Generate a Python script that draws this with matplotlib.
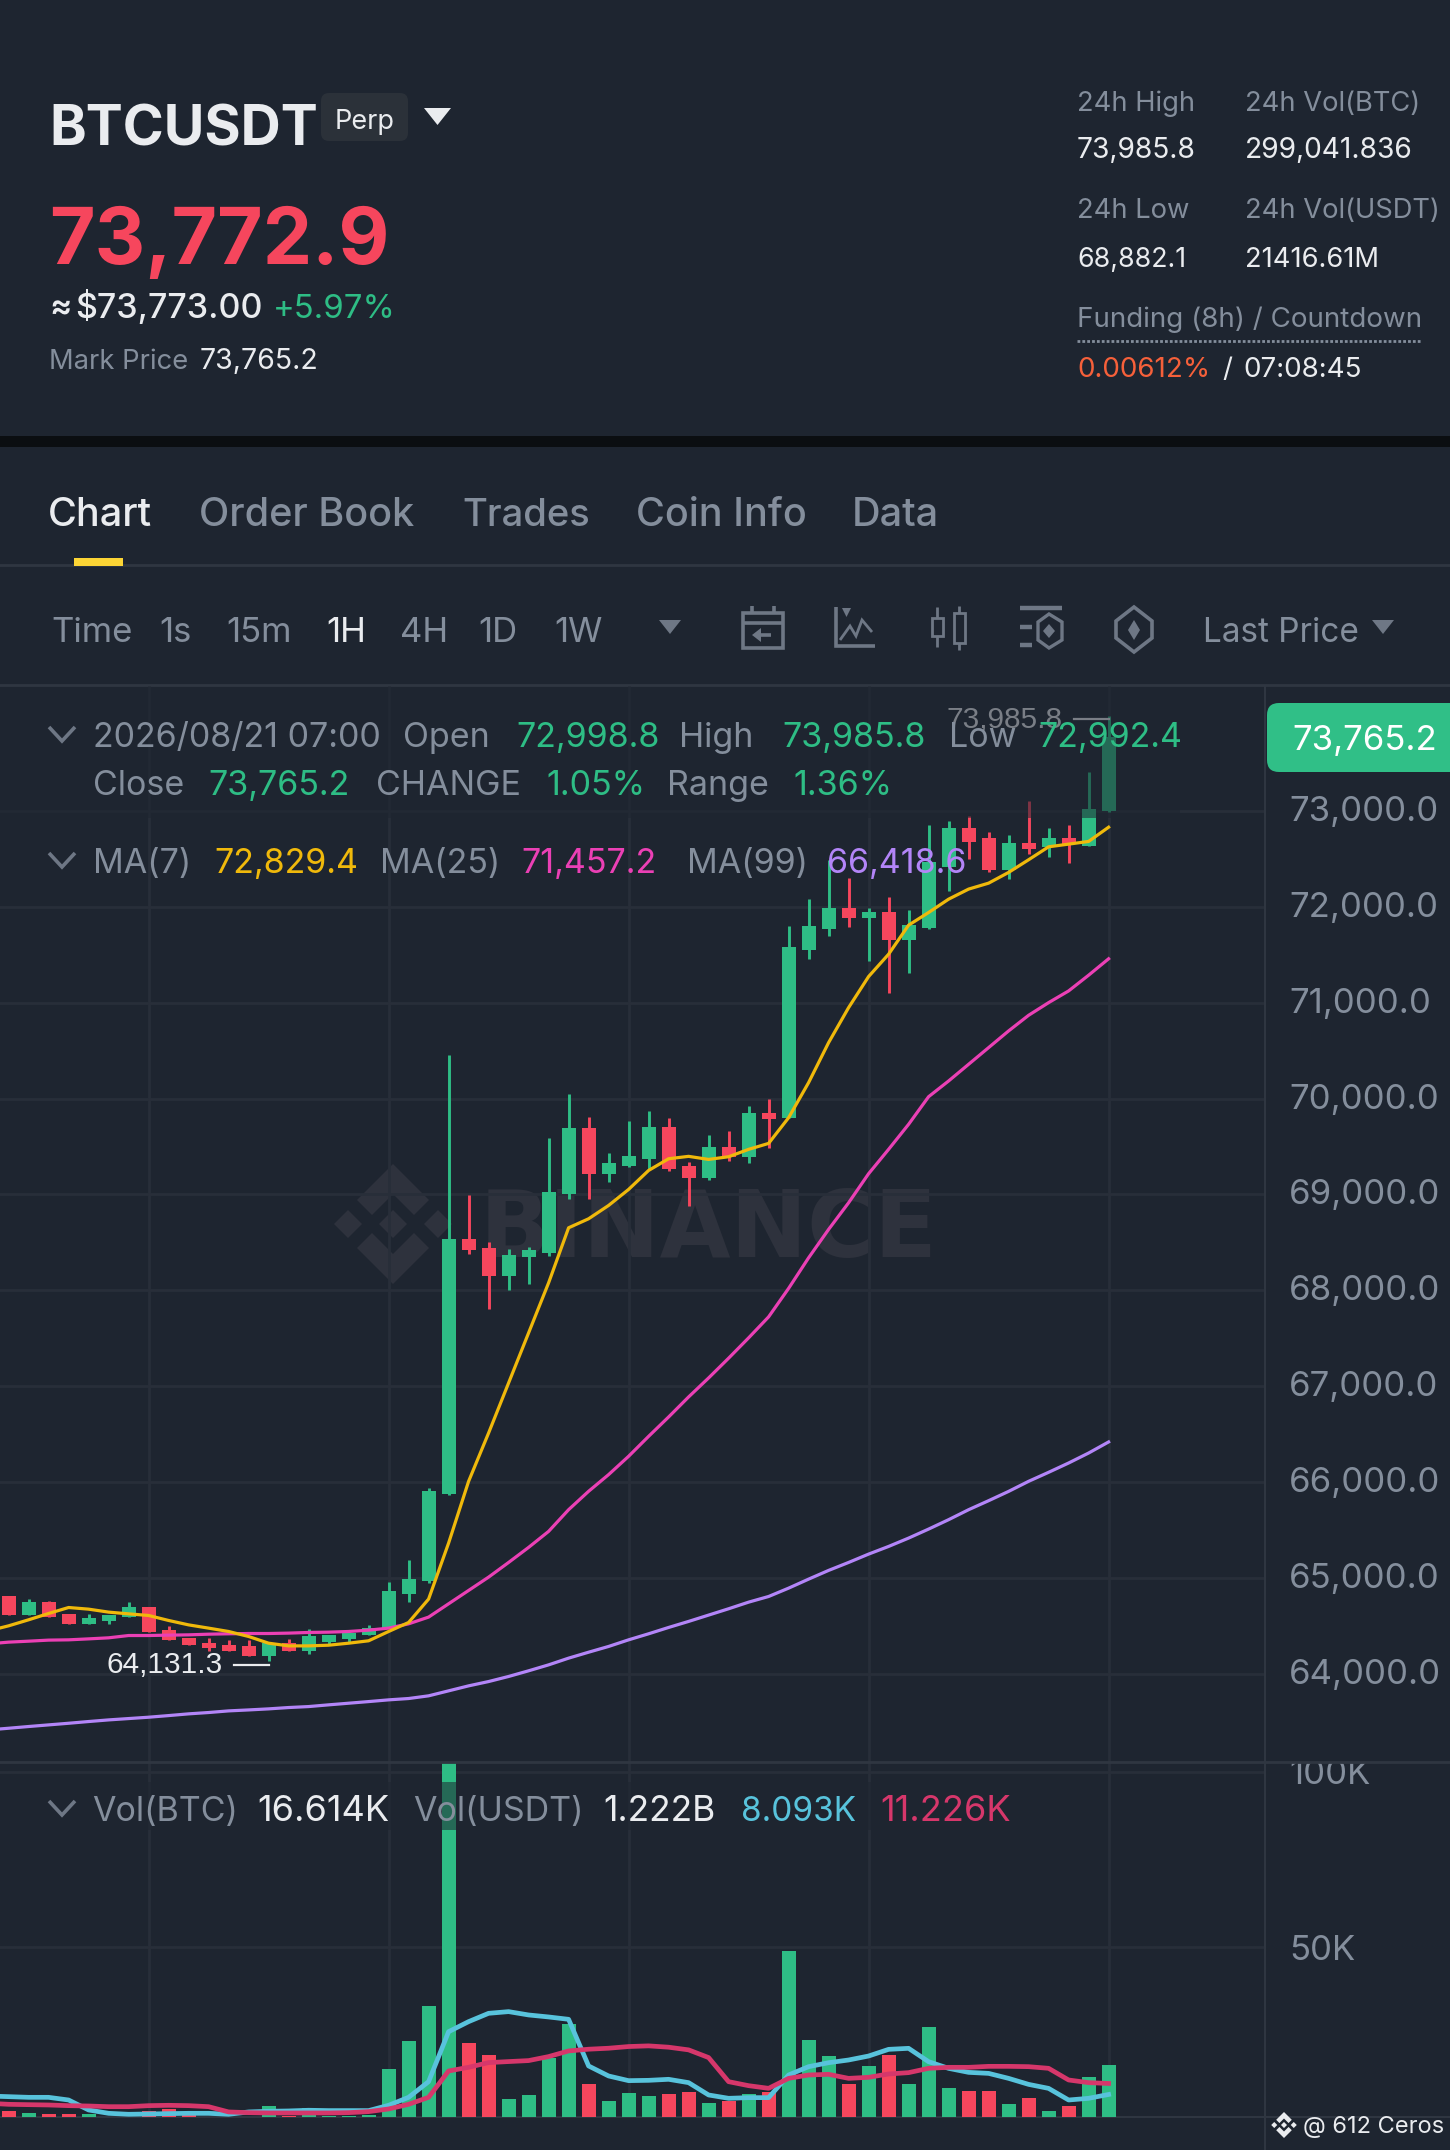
import numpy as np
import matplotlib
matplotlib.use('Agg')
import matplotlib.pyplot as plt
from matplotlib.patches import Rectangle, Polygon, FancyBboxPatch
from matplotlib.transforms import ScaledTranslation

plt.rcParams['font.family'] = ['Inter', 'DejaVu Sans']

# candles
opens = [64811, 64613, 64751, 64626, 64525, 64550, 64588, 64700, 64459, 64376,
         64327, 64300, 64292, 64188, 64320, 64243, 64337, 64368, 64404, 64477,
         64832, 64964, 65876, 68537, 68443, 68154, 68345, 68387, 69000, 69696,
         69212, 69295, 69372, 69706, 69295, 69167, 69494, 69393, 69852, 69800,
         71550, 71768, 71992, 71884, 71947, 71651, 71780, 72417, 72820, 72712,
         72385, 72667, 72625, 72722, 72635, 72998.8]
closes = [64613, 64751, 64598, 64525, 64581, 64613, 64700, 64438, 64352, 64300,
          64268, 64243, 64188, 64320, 64243, 64390, 64404, 64425, 64477, 64866,
          64992, 65903, 68537, 68418, 68154, 68373, 68418, 69028, 69696, 69212,
          69323, 69400, 69702, 69268, 69167, 69494, 69393, 69852, 69790, 71575,
          71794, 71992, 71884, 71947, 71651, 71808, 72462, 72820, 72677, 72385,
          72663, 72605, 72722, 72650, 73018, 73765.2]
highs = [64811, 64786, 64765, 64626, 64623, 64613, 64748, 64700, 64504, 64376,
         64376, 64355, 64355, 64320, 64368, 64473, 64410, 64440, 64510, 64957,
         65183, 65938, 70451, 68997, 68505, 68426, 68454, 69592, 70043, 69811,
         69435, 69762, 69866, 69800, 69341, 69622, 69657, 69921, 69998, 71800,
         72079, 72487, 72298, 71992, 72098, 71967, 72851, 72890, 72942, 72781,
         72750, 73105, 72820, 72855, 73401, 73985.8]
lows = [64613, 64613, 64598, 64525, 64525, 64520, 64588, 64438, 64352, 64300,
        64243, 64243, 64188, 64131.3, 64235, 64212, 64316, 64330, 64404, 64477,
        64751, 64950, 65862, 68374, 67800, 68008, 68068, 68356, 68948, 68948,
        69128, 69290, 69261, 69247, 68878, 69153, 69348, 69326, 69487, 69800,
        71453, 71696, 71787, 71435, 71105, 71313, 71764, 72163, 72497, 72358,
        72285, 72555, 72521, 72460, 72630, 72992.4]
volumes = [3388, 2733, 2620, 2620, 2534, 1500, 1500, 3388, 3957, 2500,
           1800, 1500, 1800, 4897, 2000, 4327, 2000, 2100, 2300, 15345,
           23317, 33281, 102460, 22833, 19245, 6804, 7943, 18392, 28157, 10989,
           6320, 8427, 7658, 8142, 8883, 5665, 6320, 8142, 8883, 49026,
           23687, 19047, 10989, 16114, 19417, 11075, 27217, 9936, 9082, 9082,
           5295, 7089, 3473, 4897, 12982, 16614]

# moving averages start one candle left of the picture
ma7 = [64449, 64501, 64564, 64630, 64692, 64675, 64644, 64626, 64609, 64557, 64511,
       64477, 64442, 64390, 64320, 64292, 64292, 64299, 64320, 64345, 64442, 64536,
       64780, 65364, 66008, 66512, 67034, 67556, 68078, 68652, 68746, 68885, 69052,
       69250, 69372, 69397, 69365, 69393, 69470, 69532, 69800, 70166, 70583, 70948,
       71272, 71505, 71808, 71940, 72079, 72184, 72246, 72358, 72490, 72625, 72653,
       72681, 72829.4]
ma25 = [64313, 64331, 64341, 64352, 64355, 64365, 64376, 64400, 64400, 64404, 64407,
        64414, 64418, 64421, 64421, 64425, 64432, 64435, 64442, 64456, 64477, 64522,
        64592, 64731, 64870, 65009, 65162, 65319, 65486, 65712, 65904, 66078, 66269,
        66477, 66679, 66888, 67086, 67292, 67504, 67723, 68020, 68339, 68635, 68913,
        69216, 69470, 69731, 70019, 70183, 70357, 70531, 70705, 70868, 71000, 71122,
        71286, 71457.2]
ma99 = [63416, 63433, 63451, 63468, 63485, 63503, 63520, 63534, 63548, 63565, 63583,
        63597, 63614, 63624, 63635, 63649, 63659, 63677, 63694, 63711, 63729, 63743,
        63771, 63823, 63875, 63920, 63973, 64032, 64094, 64164, 64226, 64286, 64355,
        64418, 64484, 64547, 64613, 64679, 64748, 64807, 64894, 64988, 65079, 65162,
        65249, 65329, 65416, 65510, 65608, 65712, 65806, 65903, 66008, 66102, 66199,
        66303, 66418.6]
vol_ma5 = [7660, 7470, 7280, 7280, 6520, 3680, 2730, 2450, 2540, 2640, 2730,
           2730, 2450, 3120, 3310, 3400, 3600, 3500, 3500, 3500, 5010, 7280,
           11740, 25970, 28830, 31200, 31680, 30730, 30160, 29490, 16210, 13360, 12030,
           12120, 12410, 11460, 7950, 7000, 7190, 7190, 13640, 16010, 17140, 17910,
           19040, 20940, 21230, 17430, 15530, 14390, 14100, 12680, 10970, 9830, 6520,
           7000, 8093]
vol_ma10 = [5590, 5290, 5190, 5100, 4910, 4810, 4620, 4620, 4910, 5010, 4910,
            4620, 3120, 2920, 2830, 2830, 2830, 2830, 2920, 3210, 3970, 5290,
            7280, 14780, 15830, 17170, 17460, 17740, 18880, 20490, 20980, 21260, 21740,
            21930, 21550, 20790, 18600, 11740, 10600, 9840, 12680, 13640, 13830, 12680,
            12980, 13930, 14310, 15540, 15820, 15820, 16100, 16100, 16010, 15540, 12220,
            11460, 11226]
price_ticks = [64000, 65000, 66000, 67000, 68000, 69000, 70000, 71000, 72000, 73000]
vol_ticks = [50000, 100000]
vol_tick_labels = ['50K', '100K']
grid_candles = [7, 19, 31, 43, 55]
low_mark = (13, 64131.3)
high_mark = (55, 73985.8)

BG = '#1E2530'
GREEN = '#2EBD85'
RED = '#F6465D'
GREY = '#848E9C'
WHITE = '#EAECEF'
LINE = '#2F3641'
GRID = '#282E39'
YEL = '#F0B90B'
PINK = '#EB40B5'
PURP = '#B385F8'
CYAN = '#58C3DC'
CRIM = '#D6376B'

W, H = 1450, 2150
fig = plt.figure(figsize=(14.5, 21.5), dpi=100, facecolor=BG)


def pixel_axes(z):
    a = fig.add_axes([0, 0, 1, 1], zorder=z)
    a.set_xlim(0, W)
    a.set_ylim(H, 0)
    a.axis('off')
    a.patch.set_alpha(0)
    return a


def frame(x0, y0, x1, y1, z):
    return fig.add_axes([x0 / W, 1 - y1 / H, (x1 - x0) / W, (y1 - y0) / H], zorder=z)


ax_bg = pixel_axes(0)
ax_top = pixel_axes(3)
ax_price = frame(0, 686, 1265, 1762, 1)
ax_vol = frame(0, 1763, 1265, 2117, 1)


def txt(x, y, s, color=GREY, size=24.5, weight='normal', ha='left', ax=None, family=None):
    (ax or ax_top).text(x, y, s, color=color, fontsize=size, fontweight=weight,
                        ha=ha, va='baseline', family=family)


def logo(ax, cx, cy, r, color, z=1):
    # the diamond mark: two chevrons and three small squares
    s = r / 60.0
    for sign in (-1, 1):
        pts = [(0, 60), (36, 24), (21, 9), (0, 30), (-21, 9), (-36, 24)]
        ax.add_patch(Polygon([(cx + px * s, cy + sign * py * s) for px, py in pts],
                             fc=color, ec='none', zorder=z))
    for dx in (-45, 0, 45):
        ax.add_patch(Polygon([(cx + (dx + px) * s, cy + py * s)
                              for px, py in [(0, 14), (14, 0), (0, -14), (-14, 0)]],
                             fc=color, ec='none', zorder=z))


# page furniture under the chart
ax_bg.add_patch(Rectangle((0, 436), W, 11, fc='#0B0E11', ec='none'))
for yy in (565, 685):
    ax_bg.plot([0, W], [yy, yy], color=LINE, lw=2)
ax_bg.add_patch(Rectangle((74, 558), 49, 8, fc='#FCD535', ec='none', zorder=3))
logo(ax_bg, 393, 1224, 60, '#2E323D')
txt(480, 1257, 'BINANCE', '#2E323D', 66, 'bold', ax=ax_bg, family=['DejaVu Sans'])

# candle panel
idx = np.arange(len(opens))
line_idx = np.arange(-1, len(opens))
o = np.array(opens)
c = np.array(closes)
up = c >= o
cols = [GREEN if u else RED for u in up]

ax_price.patch.set_alpha(0)
ax_price.set_xlim(-0.43, 62.82)
ax_price.set_ylim(63081, 74302)
ax_price.set_yticks(price_ticks)
ax_price.set_yticklabels([f'{v:,.1f}' for v in price_ticks])
ax_price.yaxis.tick_right()
ax_price.tick_params(axis='y', length=0, pad=17.5, labelsize=25, labelcolor=GREY)
lift = ScaledTranslation(0, 0.025, fig.dpi_scale_trans)
for lab in ax_price.get_yticklabels():
    lab.set_transform(lab.get_transform() + lift)
ax_price.set_xticks([])
ax_price.grid(False)
for v in price_ticks:
    ax_price.axhline(v, color=GRID, lw=2, zorder=1)
for g in grid_candles:
    ax_price.axvline(g, color=GRID, lw=2, zorder=1)
for s in ax_price.spines.values():
    s.set_visible(False)
ax_price.spines['right'].set_visible(True)
ax_price.spines['right'].set_color(LINE)
ax_price.spines['right'].set_linewidth(1.5)

ax_price.vlines(idx, lows, highs, colors=cols, lw=2.1, zorder=3)
ax_price.bar(idx, np.abs(c - o), bottom=np.minimum(o, c), width=0.7, color=cols, zorder=3)
ax_price.plot(line_idx, ma99, color=PURP, lw=2.3, zorder=4)
ax_price.plot(line_idx, ma25, color=PINK, lw=2.3, zorder=4)
ax_price.plot(line_idx, ma7, color=YEL, lw=2.3, zorder=4)

# high and low tags
for mark, drop in ((low_mark, -0.035), (high_mark, -0.03)):
    tr = ax_price.transData + ScaledTranslation(0, drop, fig.dpi_scale_trans)
    ax_price.plot([mark[0] - 1.75, mark[0]], [mark[1]] * 2, color=WHITE, lw=1.6,
                  transform=tr, zorder=5)
    ax_price.annotate(f'{mark[1]:,.1f}', xy=mark, xytext=(-33, -3), textcoords='offset points',
                      ha='right', va='center', color=WHITE, fontsize=21.5,
                      family=['Liberation Sans', 'DejaVu Sans'], zorder=5)

# volume panel
ax_vol.patch.set_alpha(0)
ax_vol.set_xlim(-0.43, 62.82)
ax_vol.set_ylim(1680, 102462)
ax_vol.set_yticks(vol_ticks)
ax_vol.set_yticklabels(vol_tick_labels)
ax_vol.yaxis.tick_right()
ax_vol.tick_params(axis='y', length=0, pad=17.5, labelsize=25, labelcolor=GREY)
ax_vol.set_xticks([])
for v in vol_ticks:
    ax_vol.axhline(v, color=GRID, lw=2, zorder=1)
for g in grid_candles:
    ax_vol.axvline(g, color=GRID, lw=2, zorder=1)
for s in ax_vol.spines.values():
    s.set_visible(False)
for side in ('right', 'bottom'):
    ax_vol.spines[side].set_visible(True)
    ax_vol.spines[side].set_color(LINE)
    ax_vol.spines[side].set_linewidth(1.5)
ax_vol.bar(idx, volumes, width=0.7, color=cols, zorder=3)
ax_vol.plot(line_idx, vol_ma5, color=CYAN, lw=3.4, zorder=4)
ax_vol.plot(line_idx, vol_ma10, color=CRIM, lw=3.4, zorder=4)

# right rail continues below the plot, and the pane separator
ax_top.plot([1265, 1265], [2117, H], color=LINE, lw=1.5)
ax_top.plot([1265, W], [2117, 2117], color=LINE, lw=1.5)
ax_top.add_patch(Rectangle((1266, 1745), W - 1266, 17, fc=BG, ec='none', zorder=1))
ax_top.plot([0, W], [1762, 1762], color=LINE, lw=2, zorder=2)

# the legend blocks sit on a see-through panel
ax_top.add_patch(Rectangle((0, 687), 1180, 131, fc=BG, ec='none', alpha=0.55, zorder=1))
ax_top.add_patch(Rectangle((40, 1782), 1000, 48, fc=BG, ec='none', alpha=0.55, zorder=1))

# header left
txt(49, 145, 'BTCUSDT', WHITE, 40, 'bold')
ax_top.add_patch(FancyBboxPatch((321, 93), 87, 48, boxstyle='round,pad=0,rounding_size=8',
                                fc='#2B3139', ec='none'))
txt(365, 129, 'Perp', WHITE, 19.5, ha='center')
ax_top.add_patch(Polygon([(424, 108), (451, 108), (437.5, 125)], fc=WHITE, ec='none'))
txt(49, 264, '73,772.9', RED, 56.5, 'bold')
txt(49, 318, '≈', WHITE, 24, 'semibold')
txt(75, 318, '$73,773.00', WHITE, 24.5, 'medium')
txt(273, 318, '+5.97%', GREEN, 23.7)
txt(49, 369, 'Mark Price', GREY, 19.7)
txt(200, 369, '73,765.2', WHITE, 20.5)

# header right
txt(1077, 111, '24h High', GREY, 19.7)
txt(1245, 111, '24h Vol(BTC)', GREY, 19.7)
txt(1077, 158, '73,985.8', WHITE, 20.3)
txt(1245, 158, '299,041.836', WHITE, 20.3)
txt(1077, 218, '24h Low', GREY, 19.7)
txt(1245, 218, '24h Vol(USDT)', GREY, 19.7)
txt(1077, 267, '68,882.1', WHITE, 19.3)
txt(1245, 267, '21416.61M', WHITE, 19.7)
txt(1077, 327, 'Funding (8h) / Countdown', GREY, 20)
ax_top.plot([1077, 1422], [341, 341], color=GREY, lw=2, ls=(0, (1, 0.75)))
txt(1077, 377, '0.00612%', '#F6603A', 20)
txt(1222, 377, '/', WHITE, 20)
txt(1243, 377, '07:08:45', WHITE, 20)

# tabs
tab_labels = ['Chart', 'Order Book', 'Trades', 'Coin Info', 'Data']
tab_x = [48, 199, 462, 636, 852]
tab_size = [28.5, 28.5, 27.5, 28.5, 28.5]
for k, (lab, xx) in enumerate(zip(tab_labels, tab_x)):
    txt(xx, 526, lab, WHITE if k == 0 else GREY, tab_size[k], 'medium')

# toolbar
tool_labels = ['Time', '1s', '15m', '1H', '4H', '1D', '1W']
tool_x = [51, 159, 226, 326, 400, 478, 554]
for lab, xx in zip(tool_labels, tool_x):
    txt(xx, 642, lab, WHITE if lab == '1H' else GREY, 25)
txt(1203, 642, 'Last Price', GREY, 24)
ICON = '#6E7785'
for xx in (659, 1372):
    ax_top.add_patch(Polygon([(xx, 620), (xx + 22, 620), (xx + 11, 634)], fc=ICON, ec='none'))


def seg(xs, ys, lw=2.6):
    ax_top.plot(xs, ys, color=ICON, lw=lw, solid_capstyle='butt', solid_joinstyle='miter')


# calendar
ax_top.add_patch(Rectangle((743, 613), 40, 35, fc='none', ec=ICON, lw=2.6))
seg([743, 783], [623, 623])
seg([752, 752], [606, 613])
seg([774, 774], [606, 613])
seg([771, 757], [635, 635])
ax_top.add_patch(Polygon([(752, 635), (761, 628), (761, 642)], fc=ICON, ec='none'))
# line chart
seg([836, 836, 875], [607, 646, 646])
seg([840, 850, 856, 862, 872], [640, 626, 636, 620, 632], 2.0)
ax_top.add_patch(Polygon([(842, 608), (851, 608), (846.5, 617)], fc=ICON, ec='none'))
# candles
ax_top.add_patch(Rectangle((932, 618), 11, 18, fc='none', ec=ICON, lw=2.0))
ax_top.add_patch(Rectangle((954, 613), 11, 30, fc='none', ec=ICON, lw=2.0))
seg([937.5, 937.5], [607, 618], 2.0)
seg([937.5, 937.5], [636, 647], 2.0)
seg([959.5, 959.5], [606, 613], 2.0)
seg([959.5, 959.5], [643, 650], 2.0)
# indicator filter
seg([1020, 1062], [608, 608], 3.2)
seg([1020, 1032], [627, 627], 3.2)
seg([1020, 1032], [645, 645], 3.2)
ax_top.add_patch(Polygon([(1049, 614), (1062, 622), (1062, 640), (1049, 648), (1038, 640), (1038, 622)],
                         fc='none', ec=ICON, lw=2.4))
ax_top.add_patch(Polygon([(1049, 624), (1055, 631), (1049, 638), (1043, 631)], fc=ICON, ec='none'))
# hexagon
ax_top.add_patch(Polygon([(1134, 607), (1152, 621), (1152, 638), (1134, 652), (1116, 638), (1116, 621)],
                         fc='none', ec=ICON, lw=2.6))
ax_top.add_patch(Polygon([(1134, 620), (1140, 630), (1134, 640), (1128, 630)], fc=ICON, ec='none'))


def chevron(x0, y0):
    seg([x0, x0 + 13, x0 + 26], [y0, y0 + 14, y0], 2.6)


chevron(49, 727)
chevron(49, 853)
chevron(49, 1801)

# legend rows
txt(93, 747, '2026/08/21 07:00')
txt(403, 747, 'Open')
txt(516, 747, f'{opens[-1]:,.1f}', GREEN)
txt(679, 747, 'High')
txt(782, 747, f'{highs[-1]:,.1f}', GREEN)
txt(949, 747, 'Low')
txt(1038, 747, f'{lows[-1]:,.1f}', GREEN)
txt(93, 795, 'Close')
txt(208, 795, f'{closes[-1]:,.1f}', GREEN)
txt(376, 795, 'CHANGE')
txt(546, 795, '1.05%', GREEN)
txt(667, 795, 'Range')
txt(793, 795, '1.36%', GREEN)
txt(93, 873, 'MA(7)')
txt(214, 873, f'{ma7[-1]:,.1f}', YEL)
txt(380, 873, 'MA(25)')
txt(521, 873, f'{ma25[-1]:,.1f}', PINK)
txt(687, 873, 'MA(99)')
txt(827, 873, f'{ma99[-1]:,.1f}', PURP)
txt(92, 1821, 'Vol(BTC)')
txt(257, 1821, '16.614K', WHITE, 26)
txt(413, 1821, 'Vol(USDT)')
txt(603, 1821, '1.222B', WHITE, 25.5)
txt(741, 1821, '8.093K', CYAN, 24)
txt(880, 1821, '11.226K', CRIM, 26)

# last price badge
ax_top.add_patch(FancyBboxPatch((1267, 703), 240, 69, boxstyle='round,pad=0,rounding_size=12',
                                fc='#30BF87', ec='none'))
txt(1292, 750, f'{closes[-1]:,.1f}', 'white', 25)

# screenshot credit
logo(ax_top, 1284, 2125, 13, WHITE, 3)
txt(1303, 2133, '@ 612 Ceros', WHITE, 17)

fig.savefig('out.png', dpi=100, facecolor=BG)
